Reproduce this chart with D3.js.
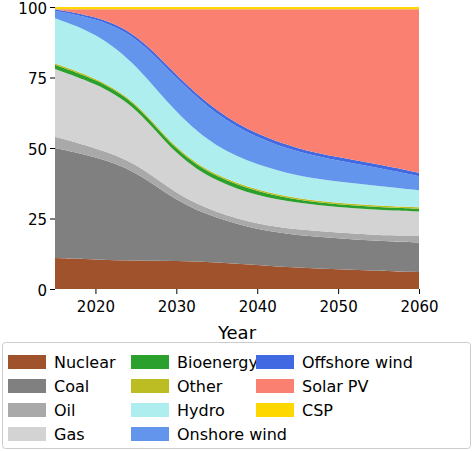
<!DOCTYPE html><html><head><meta charset="utf-8">
<script src="https://cdn.jsdelivr.net/npm/d3@7"></script>
<style>body{margin:0;background:#fff}text{font-family:"DejaVu Sans";}</style></head><body>
<svg id="c" width="474" height="451"></svg>
<script>
const years=[2015,2020,2025,2030,2035,2040,2045,2050,2055,2060];
const nuclear=[11,10.5,10,10,9.5,8.5,7.5,7,6.5,6];
const coal=[39,36.5,32,21,15.5,12.5,11.5,11,10.5,10.5];
const oil=[4,3,3,2.5,2,2,2,2,2,2.5];
const gas=[24,23,20,13.5,11,10,9.5,9,9,8.5];
const bioenergy=[1.5,1.5,1.5,1.5,1.5,1.5,1,1,1,1];
const other=[0.5,0.5,0.5,0.5,0.5,0.5,0.5,0.5,0.5,0.5];
const hydro=[16,16,13,13,10,9,8,7.5,7,6];
const onshore=[2.7,5,10,12.5,11.5,9.5,8.5,7.5,6.5,5];
const offshore=[0.5,0.8,1,1.2,1.2,1.2,1.2,1.2,1.2,1.2];
const solar=[0,2.4,8.2,23.5,36.5,44.5,49.5,52.5,55,58];
const csp=[0.8,0.8,0.8,0.8,0.8,0.8,0.8,0.8,0.8,0.8];
const yTicks=[0,25,50,75,100];
const xTicks=[2020,2030,2040,2050,2060];
const series=[
 ["Nuclear",nuclear,"#a0522d"],["Coal",coal,"#808080"],["Oil",oil,"#a9a9a9"],["Gas",gas,"#d3d3d3"],
 ["Bioenergy",bioenergy,"#2ca02c"],["Other",other,"#bcbd22"],["Hydro",hydro,"#afeeee"],
 ["Onshore wind",onshore,"#6495ed"],["Offshore wind",offshore,"#4169e1"],["Solar PV",solar,"#fa8072"],["CSP",csp,"#ffd700"]];
const svg=d3.select("#c");
const x=d3.scaleLinear().domain([2015,2060]).range([55,419]);
const y=d3.scaleLinear().domain([0,100]).range([289,7]);
const table=years.map((yr,i)=>{const o={year:yr};series.forEach(s=>o[s[0]]=s[1][i]);return o;});
const stack=d3.stack().keys(series.map(s=>s[0]))(table);
const area=d3.area().x(d=>x(d.data.year)).y0(d=>y(d[0])).y1(d=>y(d[1])).curve(d3.curveBasis);
svg.selectAll("path.a").data(stack).join("path").attr("d",area).attr("fill",(d,i)=>series[i][2]);
const xa=svg.append("g").attr("transform","translate(0,289)").call(d3.axisBottom(x).tickValues(xTicks).tickFormat(d3.format("d")).tickSize(5));
xa.select(".domain").remove();
xa.selectAll("text").attr("font-size",15).attr("font-family","DejaVu Sans").attr("dy","1em");
const ya=svg.append("g").attr("transform","translate(55,0)").call(d3.axisLeft(y).tickValues(yTicks).tickSize(5));
ya.select(".domain").remove();
ya.selectAll("text").attr("font-size",15).attr("font-family","DejaVu Sans").attr("dy","0.4em");
svg.append("text").attr("x",237).attr("y",339).attr("text-anchor","middle").attr("font-size",18).text("Year");
svg.append("rect").attr("x",2.5).attr("y",342.5).attr("width",468).attr("height",106).attr("rx",3).attr("fill","#fff").attr("stroke","#ccc");
const cols=[8,131,256];
series.forEach((s,i)=>{const c=Math.floor(i/4),r=i%4;const g=svg.append("g").attr("transform",`translate(${cols[c]},${362+r*24})`);
 g.append("rect").attr("x",0).attr("y",-7).attr("width",38).attr("height",14).attr("fill",s[2]);
 g.append("text").attr("x",46).attr("y",0).attr("dy","0.35em").attr("font-size",16).text(s[0]);});
</script></body></html>
